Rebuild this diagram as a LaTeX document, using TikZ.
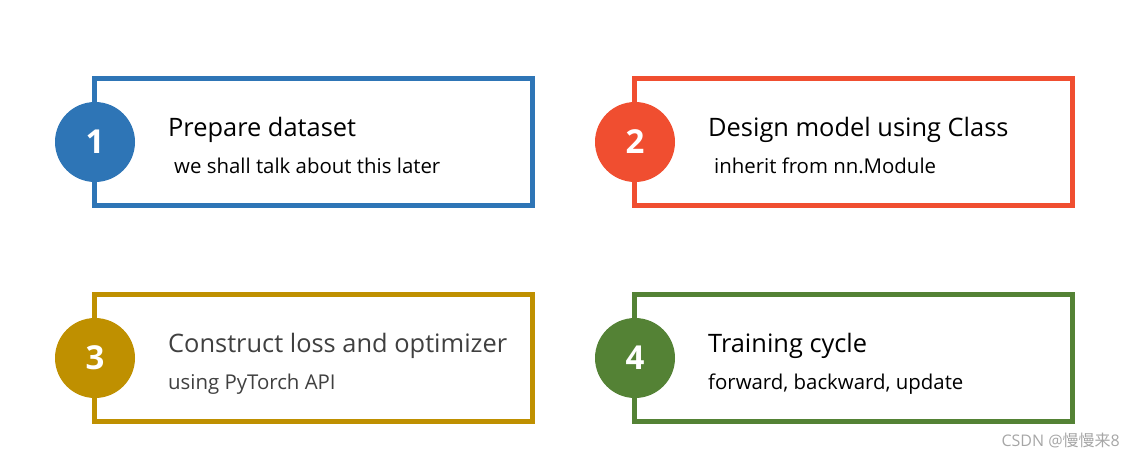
\documentclass[tikz,border=0pt]{standalone}
\usepackage{fontspec}
\setmainfont{Open Sans}
\newfontfamily\cjkfont{Noto Sans CJK SC}
\definecolor{cblue}{HTML}{2E75B6}
\definecolor{cred}{HTML}{F04E30}
\definecolor{cgold}{HTML}{BF9000}
\definecolor{cgreen}{HTML}{548235}
\definecolor{cgray}{HTML}{404040}
\begin{document}
\begin{tikzpicture}[x=1pt,y=-1pt,
  card/.style={draw=#1, line width=5pt, minimum width=438pt, minimum height=127pt, inner sep=0pt, fill=white},
  badge/.style={circle, fill=#1, minimum size=80pt, inner sep=0pt, text=white, font=\fontsize{33}{33}\selectfont\bfseries},
  ttl/.style={anchor=base west, inner sep=0pt, font=\fontsize{25.4}{25.4}\selectfont},
  sub/.style={anchor=base west, inner sep=0pt, font=\fontsize{20.4}{20.4}\selectfont}]
\useasboundingbox (0,0) rectangle (1135,458);
\node[card=cblue] (b1) at (313.5,142) {};
\node[card=cred] (b2) at (853.5,142) {};
\node[card=cgold] (b3) at (313.5,358) {};
\node[card=cgreen] (b4) at (853.5,358) {};
\node[badge=cblue] (c1) at (95,142) {1};
\node[badge=cred] (c2) at (635,142) {2};
\node[badge=cgold] (c3) at (95,358) {3};
\node[badge=cgreen] (c4) at (635,358) {4};
\node[ttl] (t1) at (168,136) {Prepare dataset};
\node[sub] (s1) at (174,173) {we shall talk about this later};
\node[ttl] (t2) at (708,136) {Design model using Class};
\node[sub] (s2) at (714,173) {inherit from nn.Module};
\node[ttl,text=cgray] (t3) at (168,352) {Construct loss and optimizer};
\node[sub,text=cgray] (s3) at (168,389) {using PyTorch API};
\node[ttl] (t4) at (708,352) {Training cycle};
\node[sub] (s4) at (708,389) {forward, backward, update};
\node[anchor=base east, inner sep=0pt, text=black!35, font=\fontsize{16}{16}\selectfont] (wm) at (1120,446) {CSDN @{\cjkfont 慢慢来}8};
\end{tikzpicture}
\end{document}
